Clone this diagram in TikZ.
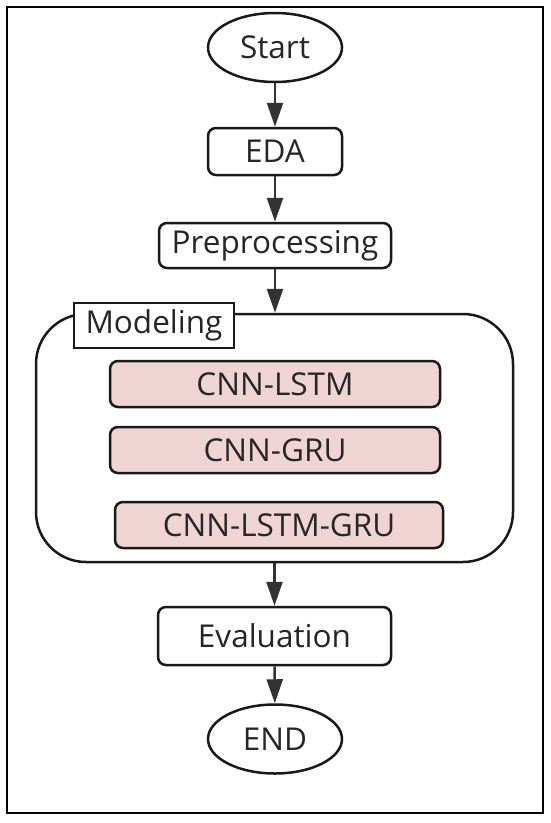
\documentclass[tikz,border=0pt]{standalone}
\usepackage{fontspec}
\setmainfont{Open Sans}
\usetikzlibrary{shapes.geometric,arrows.meta}
\definecolor{lineclr}{HTML}{333333}
\definecolor{modelpink}{HTML}{F0D4D4}
\tikzset{
  base/.style={draw=black!90, line width=2.5pt, text=black!85, font=\fontsize{31.5}{36}\selectfont, inner sep=0pt},
  terminal/.style={base, ellipse, minimum width=134pt, minimum height=69pt},
  stepbox/.style={base, rounded corners=8pt, minimum height=47pt},
  modelbox/.style={base, rounded corners=8pt, fill=modelpink, minimum height=46pt},
  flow/.style={lineclr, line width=2.5pt, -{Triangle[length=24pt,width=16pt]}}
}
\begin{document}
\begin{tikzpicture}[x=1pt, y=-1pt]
  \useasboundingbox (0,0) rectangle (550,823);
  \draw[line width=2.2pt] (7,7) rectangle (543,813);
  % main flow
  \node[terminal] (start) at (275,47.5) {Start};
  \node[stepbox, minimum width=134pt] (eda) at (275,151.5) {EDA};
  \node[stepbox, minimum width=232pt, minimum height=45pt] (prep) at (275,245.5) {Preprocessing};
  % modeling block
  \node[base, rounded corners=50pt, minimum width=477pt, minimum height=248pt] (model) at (274.5,438) {};
  \node[base, fill=white, rounded corners=0pt, minimum width=160pt, minimum height=45pt] (modlabel) at (154,325.5) {Modeling};
  \node[modelbox, minimum width=330pt] (cnnlstm) at (275,384) {CNN-LSTM};
  \node[modelbox, minimum width=330pt] (cnngru) at (275,450) {CNN-GRU};
  \node[modelbox, minimum width=328pt] (cnnboth) at (279,525) {CNN-LSTM-GRU};
  \node[stepbox, minimum width=233pt, minimum height=58pt] (eval) at (274.5,636) {Evaluation};
  \node[terminal] (finish) at (275,739) {END};
  \draw[flow] (start) -- (eda);
  \draw[flow] (eda) -- (prep);
  \draw[flow] (prep) -- (model.north -| prep);
  \draw[flow] (model.south -| eval) -- (eval);
  \draw[flow] (eval) -- (finish);
\end{tikzpicture}
\end{document}
